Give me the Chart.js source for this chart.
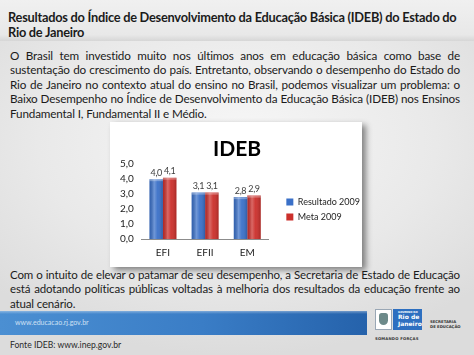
<!DOCTYPE html>
<html>
<head>
<meta charset="utf-8">
<script src="https://cdn.jsdelivr.net/npm/chart.js@4.4.1/dist/chart.umd.min.js"></script>
<style>
  html, body { margin: 0; padding: 0; }
  body {
    width: 474px; height: 355px; position: relative; overflow: hidden;
    font-family: Lato, "Open Sans", sans-serif; color: #1b1b1b;
    background: radial-gradient(ellipse 70% 60% at 50% 40%, #f7f7f7 0%, #e9e9e9 60%, #dcdcdc 100%);
  }
  .titlebar {
    position: absolute; left: 0; top: 0; width: 474px; height: 41px;
    background: linear-gradient(to bottom, #f0f0f0 0%, #e8e8e8 85%, #d6d6d6 100%);
  }
  .title {
    position: absolute; left: 8px; top: 10px; font-weight: bold; font-size: 13px;
    line-height: 15px; white-space: nowrap; letter-spacing: -0.25px;
  }
  .para { position: absolute; left: 10px; width: 450px; font-size: 12.4px; line-height: 14.4px; letter-spacing: -0.15px; }
  .para div { text-align: justify; text-align-last: justify; white-space: nowrap; }
  .para div.last, .para.measuring div { text-align-last: left; }
  #box {
    position: absolute; left: 110px; top: 122px; width: 252px; height: 145px;
    background: #fff; box-shadow: 4px 3px 6px rgba(0,0,0,0.45);
  }
  #box canvas { display: block; }
  .band {
    position: absolute; left: 0; top: 311px; width: 367px; height: 24px;
    background: linear-gradient(to right, #4b8fd2 0%, #3a7dc6 55%, #2562ab 100%);
  }
  .band::before {
    content: ""; position: absolute; left: 0; top: 0; right: 0; height: 3px;
    background: linear-gradient(to bottom, rgba(255,255,255,0.35), rgba(255,255,255,0));
  }
  .band span { position: absolute; left: 15px; top: 7px; font-size: 7px; color: #cfe0f4; }
  .fonte { position: absolute; left: 10px; top: 340px; font-size: 8.6px; color: #2a2a2a; }
  .arms {
    position: absolute; left: 375px; top: 309px; width: 17px; height: 21px;
    background: #fff; border: 1px solid #9aa7b5; box-sizing: border-box;
  }
  .arms::before {
    content: ""; position: absolute; left: 3px; top: 3px; width: 9px; height: 12px;
    border-radius: 3px 3px 5px 5px; background: #6d8a8a;
  }
  .gov {
    position: absolute; left: 393px; top: 309px; width: 29px; height: 21px; background: #2d6fc0;
    color: #fff; font-family: "DejaVu Sans", sans-serif; font-weight: bold;
  }
  .gov .s { position: absolute; left: 5px; top: 2px; font-size: 2.6px; }
  .gov .b { position: absolute; left: 5px; top: 5px; font-size: 6px; line-height: 6.5px; }
  .somando { position: absolute; left: 375px; top: 336px; font-size: 3.8px; font-weight: bold; color: #333; font-family: "DejaVu Sans", sans-serif; letter-spacing: 0.2px; }
  .sec { position: absolute; left: 430px; top: 320px; font-size: 3.8px; line-height: 4.6px; font-weight: bold; color: #333; font-family: "DejaVu Sans", sans-serif; }
</style>
</head>
<body>
<div class="titlebar"></div>
<div class="title" id="title"><span>Resultados do Índice de Desenvolvimento da Educação Básica (IDEB) do Estado do</span><br>Rio de Janeiro</div>

<div class="para" style="top:48px">
  <div><span>O Brasil tem investido muito nos últimos anos em educação básica como base de</span></div>
  <div><span>sustentação do crescimento do país. Entretanto, observando o desempenho do Estado do</span></div>
  <div><span>Rio de Janeiro no contexto atual do ensino no Brasil, podemos visualizar um problema: o</span></div>
  <div><span>Baixo Desempenho no Índice de Desenvolvimento da Educação Básica (IDEB) nos Ensinos</span></div>
  <div class="last"><span>Fundamental I, Fundamental II e Médio.</span></div>
</div>

<div id="box"><canvas id="ideb"></canvas></div>

<div class="para" style="top:268px">
  <div><span>Com o intuito de elevar o patamar de seu desempenho, a Secretaria de Estado de Educação</span></div>
  <div><span>está adotando políticas públicas voltadas à melhoria dos resultados da educação frente ao</span></div>
  <div class="last"><span>atual cenário.</span></div>
</div>

<div class="band"><span>www.educacao.rj.gov.br</span></div>
<div class="arms"></div>
<div class="gov"><span class="s">GOVERNO DO</span><span class="b">Rio de<br>Janeiro</span></div>
<div class="somando">SOMANDO FORÇAS</div>
<div class="sec">SECRETARIA<br>DE EDUCAÇÃO</div>
<div class="fonte">Fonte IDEB: www.inep.gov.br</div>

<script>
// IDEB 2009 - Estado do Rio de Janeiro
const categories = ['EFI', 'EFII', 'EM'];
const resultado2009 = [4.0, 3.1, 2.8];
const meta2009 = [4.1, 3.1, 2.9];
const yTicks = [0, 1, 2, 3, 4, 5];

const BLUE = '#3a70c8';
const RED = '#cb2f2b';
const fmt = v => v.toFixed(1).replace('.', ',');

// shrink slide text until the longest line fits its width
function fitLines(el, maxW) {
  el.classList.add('measuring');
  let size = parseFloat(getComputedStyle(el).fontSize);
  const spans = el.querySelectorAll('span');
  const widest = () => Math.max(...Array.from(spans, s => s.getBoundingClientRect().width));
  while (widest() > maxW && size > 8) {
    size -= 0.1;
    el.style.fontSize = size + 'px';
  }
  el.classList.remove('measuring');
}
document.querySelectorAll('.para').forEach(p => fitLines(p, 448));
fitLines(document.getElementById('title'), 450);

// the legend sits in a narrow box: give it just the width its labels need
const snugLegend = {
  id: 'snugLegend',
  afterInit(chart) {
    const lg = chart.legend;
    const fit = lg.fit;
    lg.fit = function () {
      this.maxWidth = chart.width;
      fit.call(this);
      if (!this.isHorizontal() && this.columnSizes.length) {
        this.width = this.options.labels.padding + this.columnSizes[0].width + 2;
      }
    };
  }
};

// cylinder-like shading on each bar + value labels above
const barLook = {
  id: 'barLook',
  afterDatasetsDraw(chart) {
    const ctx = chart.ctx;
    chart.data.datasets.forEach((ds, di) => {
      const meta = chart.getDatasetMeta(di);
      meta.data.forEach((bar, i) => {
        const left = bar.x - bar.width / 2;
        const right = bar.x + bar.width / 2;
        const g = ctx.createLinearGradient(left, 0, right, 0);
        g.addColorStop(0, 'rgba(0,0,0,0.12)');
        g.addColorStop(0.35, 'rgba(255,255,255,0.28)');
        g.addColorStop(0.6, 'rgba(255,255,255,0.05)');
        g.addColorStop(1, 'rgba(0,0,0,0.18)');
        ctx.save();
        ctx.fillStyle = g;
        ctx.fillRect(left, bar.y, bar.width, bar.base - bar.y);
        // lighter top cap
        ctx.fillStyle = 'rgba(255,255,255,0.3)';
        ctx.fillRect(left, bar.y, bar.width, 2);
        ctx.fillStyle = '#404040';
        ctx.font = '9px Lato, sans-serif';
        ctx.letterSpacing = '-0.4px';
        ctx.textAlign = 'center';
        ctx.textBaseline = 'bottom';
        ctx.fillText(fmt(ds.data[i]), bar.x, bar.y - 2);
        ctx.restore();
      });
    });
  }
};

new Chart(document.getElementById('ideb'), {
  type: 'bar',
  data: {
    labels: categories,
    datasets: [
      { label: 'Resultado 2009', data: resultado2009, backgroundColor: BLUE },
      { label: 'Meta 2009', data: meta2009, backgroundColor: RED }
    ]
  },
  options: {
    responsive: true,
    maintainAspectRatio: false,
    animation: false,
    datasets: { bar: { categoryPercentage: 0.64, barPercentage: 1.0 } },
    layout: { padding: { left: 2, right: 0, top: 0, bottom: 0 } },
    plugins: {
      title: {
        display: true, text: 'IDEB', color: '#000',
        font: { family: 'Lato', size: 21, weight: 'bold' },
        padding: { top: 15, bottom: 2 }
      },
      legend: {
        position: 'right',
        fullSize: false,
        title: { display: true, text: '', padding: 2, font: { size: 10 } },
        labels: {
          color: '#1e1e1e', boxWidth: 7, boxHeight: 7, padding: 6,
          font: { family: 'Lato', size: 9 }
        }
      },
      tooltip: { enabled: false }
    },
    scales: {
      x: {
        grid: { display: false, drawTicks: false },
        border: { display: true, color: '#8c8c8c' },
        ticks: { color: '#1e1e1e', padding: 8, font: { family: 'Lato', size: 10 } }
      },
      y: {
        min: 0, max: 5,
        afterBuildTicks: axis => { axis.ticks = yTicks.map(v => ({ value: v })); },
        grid: { display: false, drawTicks: false },
        border: { display: false },
        ticks: {
          autoSkip: false,
          color: '#1e1e1e', padding: 8, font: { family: 'Lato', size: 10 },
          callback: v => fmt(v)
        }
      },
      // empty scale that only keeps a gap between the plot and the legend
      gap: {
        position: 'right', display: true,
        grid: { display: false, drawTicks: false }, border: { display: false },
        ticks: { display: false },
        afterFit: s => { s.width = 12; }
      }
    }
  },
  plugins: [snugLegend, barLook]
});
</script>
</body>
</html>
